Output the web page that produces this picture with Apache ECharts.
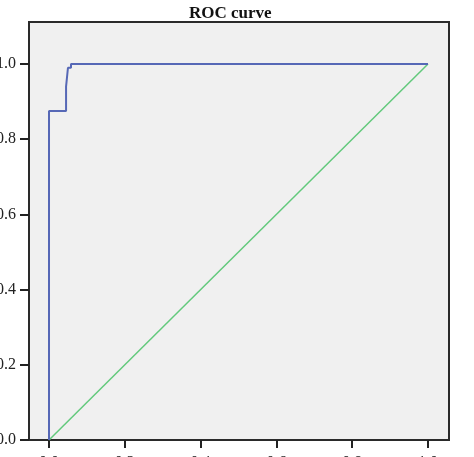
<!DOCTYPE html>
<html>
<head>
<meta charset="utf-8">
<script src="https://cdn.jsdelivr.net/npm/echarts@6/dist/echarts.min.js"></script>
<style>
  html, body { margin: 0; padding: 0; background: #fff; }
  #chart { width: 474px; height: 457px; }
</style>
</head>
<body>
<div id="chart"></div>
<script>
    // ROC curve: 1 - specificity vs sensitivity
    const rocX = [0, 0, 0.045, 0.045, 0.05, 0.05, 0.058, 0.058, 1]
    const rocY = [0, 0.875, 0.875, 0.94, 0.94, 0.99, 0.99, 1, 1]
    const refX = [0, 1]
    const refY = [0, 1]
    const tickVals = [0, 0.2, 0.4, 0.6, 0.8, 1.0]

    const serif = '"Liberation Serif", "DejaVu Serif", serif'
    const mychart = echarts.init(document.getElementById('chart'))
    mychart.setOption({
        animation: false,
        title: {
            text: 'ROC curve',
            left: 184,
            top: 0,
            textStyle: { fontFamily: serif, fontSize: 17, fontWeight: 'bold', color: '#111' }
        },
        grid: {
            left: 29, right: 25, top: 22, bottom: 17,
            containLabel: false, outerBoundsMode: 'none',
            show: true, backgroundColor: '#f0f0f0', borderColor: '#2a2a2a', borderWidth: 2
        },
        xAxis: {
            type: 'value',
            min: -0.0528, max: 1.0554,
            axisLine: { show: false, onZero: false },
            axisTick: { show: true, length: 8, customValues: tickVals, lineStyle: { color: '#222', width: 2 } },
            axisLabel: {
                margin: 15, fontFamily: serif, fontSize: 16, color: '#222',
                customValues: tickVals,
                formatter: v => v.toFixed(1)
            },
            splitLine: { show: false }
        },
        yAxis: {
            type: 'value',
            min: 0, max: 1.1117,
            axisLine: { show: false, onZero: false },
            axisTick: { show: true, length: 9, customValues: tickVals, lineStyle: { color: '#222', width: 2 } },
            axisLabel: {
                margin: 13, fontFamily: serif, fontSize: 16, color: '#222',
                customValues: tickVals,
                formatter: v => v.toFixed(1)
            },
            splitLine: { show: false }
        },
        series: [
            {
                name: 'ROC',
                type: 'line',
                data: rocX.map((x, i) => [x, rocY[i]]),
                symbol: 'none',
                lineStyle: { color: '#5668b6', width: 2 },
                z: 3
            },
            {
                name: 'Reference',
                type: 'line',
                data: refX.map((x, i) => [x, refY[i]]),
                symbol: 'none',
                lineStyle: { color: '#62c97c', width: 1.5 },
                z: 2
            }
        ]
    })
</script>
</body>
</html>
